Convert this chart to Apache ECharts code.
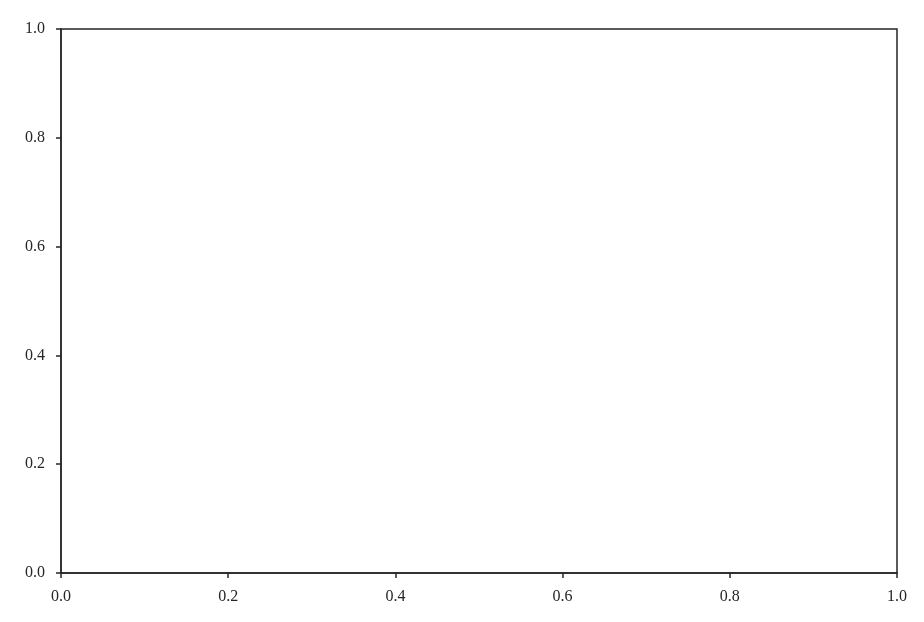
<!DOCTYPE html>
<html>
<head>
<meta charset="utf-8">
<script src="https://cdn.jsdelivr.net/npm/echarts@6/dist/echarts.min.js"></script>
<style>html,body{margin:0;padding:0;background:#fff;}#c{width:924px;height:622px;}</style>
</head>
<body>
<div id="c"></div>
<script>
const xTicks = [0.0, 0.2, 0.4, 0.6, 0.8, 1.0];
const yTicks = [0.0, 0.2, 0.4, 0.6, 0.8, 1.0];
const seriesData = [];

const chart = echarts.init(document.getElementById('c'), null, {renderer: 'canvas'});
const font = 'Liberation Serif';
const axisCommon = {
  type: 'value',
  min: xTicks[0],
  max: xTicks[xTicks.length - 1],
  interval: 0.2,
  splitLine: {show: false},
  axisLine: {show: true, onZero: false, lineStyle: {color: '#262626', width: 1.5}},
  axisTick: {show: true, inside: false, length: 5, lineStyle: {color: '#262626', width: 1.5}},
  axisLabel: {color: '#262626', fontFamily: font, fontSize: 16, formatter: v => v.toFixed(1)}
};
chart.setOption({
  animation: false,
  backgroundColor: '#fff',
  grid: {left: 61, right: 27, top: 29, bottom: 49, show: true, borderColor: '#262626', borderWidth: 1.5, containLabel: false},
  xAxis: Object.assign({}, axisCommon, {axisLabel: Object.assign({}, axisCommon.axisLabel, {margin: 16})}),
  yAxis: Object.assign({}, axisCommon, {min: yTicks[0], max: yTicks[yTicks.length - 1], axisLabel: Object.assign({}, axisCommon.axisLabel, {margin: 16})}),
  series: [{type: 'line', data: seriesData}]
});
</script>
</body>
</html>
